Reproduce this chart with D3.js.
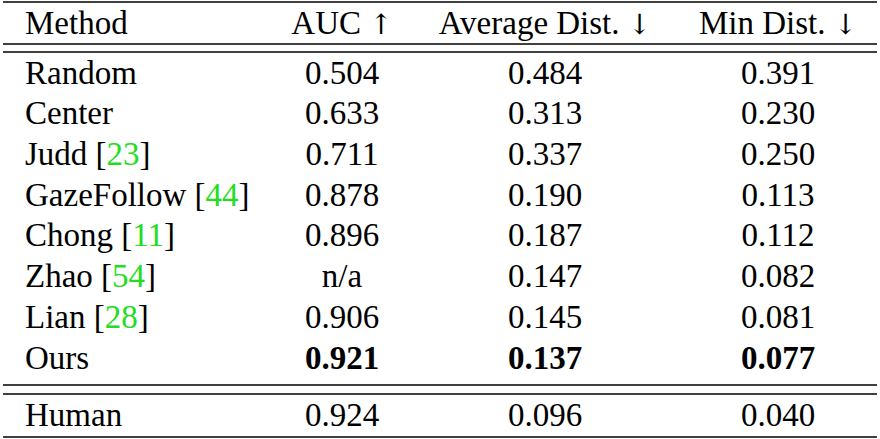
<!DOCTYPE html>
<html><head><meta charset="utf-8">
<script src="https://cdn.jsdelivr.net/npm/d3@7"></script>
<style>body{margin:0;background:#fff}</style>
</head><body>
<svg id="chart"></svg>
<script>
const headers = ['Method', 'AUC', 'Average Dist.', 'Min Dist.'];
const arrows = [null, '↑', '↓', '↓'];
const methods = ['Random', 'Center', 'Judd', 'GazeFollow', 'Chong', 'Zhao', 'Lian', 'Ours'];
const refs = [null, null, '23', '44', '11', '54', '28', null];
const auc = ['0.504', '0.633', '0.711', '0.878', '0.896', 'n/a', '0.906', '0.921'];
const avgDist = ['0.484', '0.313', '0.337', '0.190', '0.187', '0.147', '0.145', '0.137'];
const minDist = ['0.391', '0.230', '0.250', '0.113', '0.112', '0.082', '0.081', '0.077'];
const human = ['Human', '0.924', '0.096', '0.040'];

const w = 880, h = 439;
const svg = d3.select('#chart').attr('width', w).attr('height', h)
    .style('font-family', '"Liberation Serif", "Times New Roman", serif')
    .style('font-size', '33px');

const colX = [25, 342, 545, 778];
const y = d3.scaleLinear().domain([0, 7]).range([72, 357]);

const rule = (yy) => svg.append('line').attr('x1', 3).attr('x2', 877)
    .attr('y1', yy).attr('y2', yy).attr('stroke', '#000').attr('stroke-width', 1.5);
[2, 44, 52, 385, 394, 437].forEach(rule);

const cell = (x, yy, t, anchor, bold) => svg.append('text')
    .attr('x', x).attr('y', yy).attr('dy', '0.35em')
    .attr('text-anchor', anchor).attr('font-weight', bold ? 'bold' : null).text(t);

headers.forEach((t, i) => {
    const c = cell(colX[i], 22, t, i ? 'middle' : 'start');
    if (arrows[i]) {
        c.text(t + ' ');
        c.append('tspan').style('font-family', '"DejaVu Serif", serif')
            .style('font-size', '28px').attr('fill', '#000').text(arrows[i] + '\uFE0E');
    }
});

methods.forEach((m, i) => {
    const t = cell(colX[0], y(i), m, 'start');
    if (refs[i]) {
        t.text(m + ' [');
        t.append('tspan').attr('fill', '#22dd22').text(refs[i]);
        t.append('tspan').text(']');
    }
    const bold = m === 'Ours';
    cell(colX[1], y(i), auc[i], 'middle', bold);
    cell(colX[2], y(i), avgDist[i], 'middle', bold);
    cell(colX[3], y(i), minDist[i], 'middle', bold);
});

human.forEach((t, i) => cell(colX[i], 414, t, i ? 'middle' : 'start'));
</script>
</body></html>
